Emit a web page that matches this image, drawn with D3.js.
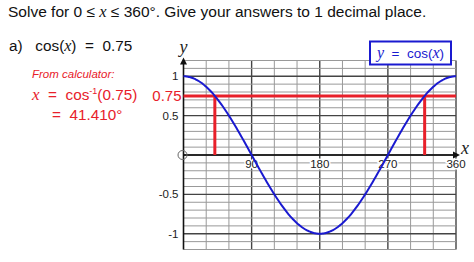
<!DOCTYPE html>
<html><head><meta charset="utf-8">
<script src="https://cdn.jsdelivr.net/npm/d3@7"></script>
<style>body{margin:0;background:#fff;}svg{display:block;font-family:Arial,"Liberation Sans",sans-serif;}text{white-space:pre;}</style>
</head><body><svg id="c" width="474" height="262"></svg>
<script>
const xTicks = [90, 180, 270, 360];
const xTickLabels = ["90", "180", "270", "360"];
const yTicks = [1, 0.5, -0.5, -1];
const yTickLabels = ["1", "0.5", "-0.5", "-1"];
const targetValue = [0.75];
const solutions = [41.41, 318.59];
const curveX = d3.range(0, 361, 2);
const curveY = curveX.map(d => Math.cos(d * Math.PI / 180));

const svg = d3.select("#c");
const x = d3.scaleLinear().domain([0, 360]).range([183.5, 456]);
const y = d3.scaleLinear().domain([-1.2, 1.2]).range([249.5, 60.5]);
const red = "#e8202a", blue = "#1a1ad0";
const serif = "'Liberation Serif','DejaVu Serif',serif";

// grid
const g = svg.append("g");
d3.range(30, 361, 30).forEach(v => {
  g.append("line").attr("x1", x(v)).attr("x2", x(v)).attr("y1", y(1.2)).attr("y2", y(-1.2))
    .attr("stroke", v % 90 === 0 ? "#444" : "#999").attr("stroke-width", v % 90 === 0 ? 1.4 : 1);
});
d3.range(-12, 13).forEach(i => {
  const v = i / 10;
  const major = i % 5 === 0;
  g.append("line").attr("x1", x(0)).attr("x2", x(360)).attr("y1", y(v)).attr("y2", y(v))
    .attr("stroke", major ? "#444" : "#999").attr("stroke-width", major ? 1.4 : 1);
});

// axes
svg.append("line").attr("x1", x(0)).attr("x2", x(360) + 2).attr("y1", y(0)).attr("y2", y(0)).attr("stroke", "#111").attr("stroke-width", 1.6);
svg.append("line").attr("x1", x(0)).attr("x2", x(0)).attr("y1", y(-1.2)).attr("y2", y(1.2) + 2).attr("stroke", "#111").attr("stroke-width", 1.6);
svg.append("path").attr("d", `M${x(0)-3.5},${y(1.2)+4}L${x(0)},${y(1.2)-3}L${x(0)+3.5},${y(1.2)+4}Z`).attr("fill", "#111");
svg.append("path").attr("d", `M${x(360)-3},${y(0)-3.5}L${x(360)+4},${y(0)}L${x(360)-3},${y(0)+3.5}Z`).attr("fill", "#111");
svg.append("circle").attr("cx", x(0) - 1).attr("cy", y(0)).attr("r", 4.5).attr("fill", "none").attr("stroke", "#666").attr("stroke-width", 1);

svg.append("text").attr("x", x(0)).attr("y", 53).attr("text-anchor", "middle")
  .attr("font-family", serif).attr("font-style", "italic").attr("font-size", 18).attr("fill", "#222").text("y");
svg.append("text").attr("x", 465).attr("y", 154).attr("text-anchor", "middle")
  .attr("font-family", serif).attr("font-style", "italic").attr("font-size", 18).attr("fill", "#222").text("x");

// tick labels (with white halo)
xTicks.forEach((v, i) => {
  svg.append("text").attr("x", x(v)).attr("y", y(0) + 12.5).attr("text-anchor", "middle")
    .attr("font-size", 11.5).attr("fill", "#222")
    .attr("stroke", "#fff").attr("stroke-width", 3).attr("paint-order", "stroke").text(xTickLabels[i]);
});
yTicks.forEach((v, i) => {
  svg.append("text").attr("x", x(0) - 5).attr("y", y(v) + 4).attr("text-anchor", "end")
    .attr("font-size", 11.5).attr("fill", "#222").text(yTickLabels[i]);
});

// red lines
svg.append("line").attr("x1", x(0)).attr("x2", x(360)).attr("y1", y(targetValue[0])).attr("y2", y(targetValue[0]))
  .attr("stroke", red).attr("stroke-width", 3);
solutions.forEach(s => {
  svg.append("line").attr("x1", x(s)).attr("x2", x(s)).attr("y1", y(targetValue[0])).attr("y2", y(0))
    .attr("stroke", red).attr("stroke-width", 3);
});
svg.append("text").attr("x", x(0) - 2).attr("y", y(0.75) + 5.5).attr("text-anchor", "end")
  .attr("font-size", 15).attr("fill", red).text("0.75");

// curve
svg.append("path").datum(curveX.map((d, i) => [d, curveY[i]]))
  .attr("d", d3.line().x(d => x(d[0])).y(d => y(d[1])).curve(d3.curveMonotoneX))
  .attr("fill", "none").attr("stroke", blue).attr("stroke-width", 2);

// legend box
svg.append("rect").attr("x", 370).attr("y", 41.5).attr("width", 81).attr("height", 23)
  .attr("fill", "#fff").attr("stroke", blue).attr("stroke-width", 2);
const lt = svg.append("text").attr("x", 410.5).attr("y", 58).attr("text-anchor", "middle").attr("font-size", 13.5).attr("fill", blue);
lt.append("tspan").attr("font-family", serif).attr("font-style", "italic").attr("font-size", 16).text("y");
lt.append("tspan").text("  =  cos(");
lt.append("tspan").attr("font-family", serif).attr("font-style", "italic").attr("font-size", 16).text("x");
lt.append("tspan").text(")");

// texts
const t1 = svg.append("text").attr("x", 8).attr("y", 17).attr("font-size", 15.5).attr("fill", "#111");
t1.append("tspan").text("Solve for 0 ≤ ");
t1.append("tspan").attr("font-family", serif).attr("font-style", "italic").attr("font-size", 16.5).text("x");
t1.append("tspan").text(" ≤ 360°. Give your answers to 1 decimal place.");

const t2 = svg.append("text").attr("x", 9).attr("y", 51).attr("font-size", 15.3).attr("fill", "#111");
t2.append("tspan").text("a)   cos(");
t2.append("tspan").attr("font-family", serif).attr("font-style", "italic").attr("font-size", 16).text("x");
t2.append("tspan").text(")  =  0.75");

svg.append("text").attr("x", 32).attr("y", 78).attr("font-size", 11.5).attr("font-style", "italic").attr("fill", red).text("From calculator:");
const t3 = svg.append("text").attr("x", 32).attr("y", 100).attr("font-size", 15.3).attr("fill", red);
t3.append("tspan").attr("font-family", serif).attr("font-style", "italic").attr("font-size", 17).text("x");
t3.append("tspan").text("  =  cos");
t3.append("tspan").attr("font-size", 9).attr("dy", -6).text("-1");
t3.append("tspan").attr("dy", 6).text("(0.75)");
svg.append("text").attr("x", 52).attr("y", 120).attr("font-size", 15.3).attr("fill", red).text("=  41.410°");
</script></body></html>
